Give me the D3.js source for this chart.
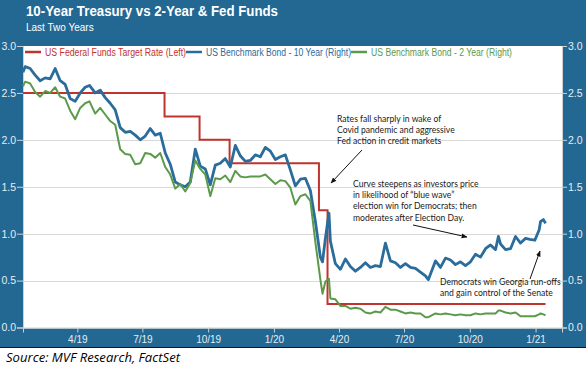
<!DOCTYPE html>
<html>
<head>
<meta charset="utf-8">
<script src="https://cdn.jsdelivr.net/npm/d3@7"></script>
<style>
body { margin: 0; background: #fff; }
svg { display: block; }
</style>
</head>
<body>
<script>
//============================================================
// Data (weekly-ish)
var dates = [
  "2019-01-15","2019-01-18","2019-01-25","2019-02-01","2019-02-08","2019-02-15","2019-02-22",
  "2019-03-01","2019-03-08","2019-03-15","2019-03-22","2019-03-29","2019-04-05","2019-04-12",
  "2019-04-18","2019-04-26","2019-05-03","2019-05-10","2019-05-17","2019-05-24","2019-05-31",
  "2019-06-07","2019-06-14","2019-06-21","2019-06-28","2019-07-05","2019-07-12","2019-07-19",
  "2019-07-26","2019-08-02","2019-08-09","2019-08-16","2019-08-23","2019-08-30","2019-09-06",
  "2019-09-13","2019-09-20","2019-09-27","2019-10-04","2019-10-11","2019-10-18","2019-10-25",
  "2019-11-01","2019-11-08","2019-11-15","2019-11-22","2019-11-29","2019-12-06","2019-12-13",
  "2019-12-20","2019-12-27",
  "2020-01-03","2020-01-10","2020-01-17","2020-01-24","2020-01-31","2020-02-07","2020-02-14",
  "2020-02-21","2020-02-28","2020-03-06","2020-03-09","2020-03-13","2020-03-18","2020-03-20",
  "2020-03-27","2020-04-03","2020-04-10","2020-04-17","2020-04-24","2020-05-01","2020-05-08",
  "2020-05-15","2020-05-22","2020-05-29","2020-06-05","2020-06-12","2020-06-19","2020-06-26",
  "2020-07-03","2020-07-10","2020-07-17","2020-07-24","2020-07-31","2020-08-04","2020-08-14",
  "2020-08-21","2020-08-28","2020-09-04","2020-09-11","2020-09-18","2020-09-25","2020-10-02",
  "2020-10-09","2020-10-16","2020-10-23","2020-10-30","2020-11-06","2020-11-10","2020-11-13",
  "2020-11-20","2020-11-27","2020-12-04","2020-12-11","2020-12-18","2020-12-24","2020-12-31",
  "2021-01-06","2021-01-08","2021-01-12","2021-01-15"
];

var tenYear = [
  2.72,2.78,2.76,2.69,2.63,2.66,2.65,
  2.76,2.63,2.59,2.44,2.41,2.50,2.56,
  2.58,2.50,2.53,2.45,2.39,2.32,2.13,
  2.08,2.09,2.05,2.00,2.04,2.12,2.05,
  2.07,1.86,1.74,1.55,1.52,1.50,1.55,
  1.90,1.72,1.69,1.52,1.73,1.75,1.80,
  1.71,1.94,1.83,1.77,1.78,1.84,1.82,
  1.92,1.88,
  1.79,1.82,1.84,1.68,1.51,1.58,1.59,
  1.46,1.13,0.75,0.70,0.95,1.22,0.92,
  0.68,0.62,0.73,0.65,0.60,0.64,0.69,
  0.64,0.66,0.65,0.90,0.71,0.69,0.64,
  0.68,0.64,0.63,0.59,0.55,0.51,0.71,
  0.64,0.74,0.72,0.67,0.70,0.66,0.70,
  0.78,0.75,0.84,0.88,0.83,0.97,0.89,
  0.83,0.84,0.97,0.90,0.95,0.94,0.93,
  1.04,1.13,1.15,1.11
];

var twoYear = [
  2.57,2.62,2.60,2.51,2.46,2.52,2.50,
  2.56,2.46,2.44,2.31,2.22,2.34,2.39,
  2.41,2.28,2.34,2.27,2.20,2.16,1.90,
  1.85,1.84,1.74,1.75,1.86,1.85,1.81,
  1.86,1.71,1.63,1.48,1.53,1.45,1.54,
  1.78,1.69,1.63,1.40,1.59,1.58,1.62,
  1.55,1.67,1.61,1.60,1.61,1.61,1.61,
  1.63,1.58,
  1.53,1.57,1.56,1.49,1.31,1.40,1.42,
  1.35,0.91,0.51,0.36,0.49,0.52,0.31,
  0.30,0.23,0.23,0.20,0.21,0.20,0.16,
  0.15,0.17,0.16,0.22,0.19,0.19,0.17,
  0.15,0.16,0.15,0.15,0.11,0.11,0.15,
  0.14,0.15,0.14,0.13,0.14,0.13,0.13,
  0.15,0.14,0.15,0.15,0.15,0.18,0.18,
  0.16,0.15,0.16,0.12,0.12,0.12,0.12,
  0.14,0.15,0.14,0.13
];

var fedDates = ["2019-01-15","2019-08-01","2019-09-19","2019-10-31","2020-03-04","2020-03-16","2021-01-15"];
var fedRate  = [2.50, 2.25, 2.00, 1.75, 1.25, 0.25, 0.25];

var yTicks = [0, 0.5, 1.0, 1.5, 2.0, 2.5, 3.0];
var xTickDates = ["2019-04-01","2019-07-01","2019-10-01","2020-01-01","2020-04-01","2020-07-01","2020-10-01","2021-01-01"];
var seriesNames = ["US Federal Funds Target Rate (Left)", "US Benchmark Bond - 10 Year (Right)", "US Benchmark Bond - 2 Year (Right)"];

//============================================================
// Set up SVG
var W = 586, H = 368;
var bg = "#236892";
var cRed = "#c0342f", cBlue = "#2a6c9b", cGreen = "#5b9a4a";
var parse = d3.timeParse("%Y-%m-%d");

var svg = d3.select("body").append("svg")
  .attr("width", W)
  .attr("height", H);

// blue panel
svg.append("rect").attr("x", 0).attr("y", 0).attr("width", W).attr("height", 347).attr("fill", bg);
svg.append("line").attr("x1", 0).attr("x2", W).attr("y1", 347.5).attr("y2", 347.5)
  .attr("stroke", "#111").attr("stroke-width", 1.2);

var plot = { left: 23, right: 562, top: 46, bottom: 327.5 };

svg.append("rect")
  .attr("x", plot.left).attr("y", plot.top)
  .attr("width", plot.right - plot.left).attr("height", plot.bottom - plot.top + 1)
  .attr("fill", "#fff");

var x = d3.scaleTime()
  .domain([parse("2019-01-15"), parse("2021-02-07")])
  .range([plot.left, plot.right]);

var y = d3.scaleLinear()
  .domain([0, 3])
  .range([plot.bottom, plot.top]);

// gridlines
svg.append("g").selectAll("line")
  .data(yTicks.filter(function (d) { return d > 0 && d < 3; }))
  .enter().append("line")
  .attr("x1", plot.left).attr("x2", plot.right)
  .attr("y1", function (d) { return Math.round(y(d)) + 0.5; })
  .attr("y2", function (d) { return Math.round(y(d)) + 0.5; })
  .attr("stroke", "#d9d9d9").attr("stroke-width", 1);

//============================================================
// Axes
function styleAxis(g) {
  g.selectAll(".domain").attr("stroke", "#d0d0d0");
  g.selectAll(".tick line").attr("stroke", "#d0d0d0");
  g.selectAll(".tick text")
    .attr("fill", "#e6eef4")
    .style("font-family", "'Liberation Sans', Arial, sans-serif")
    .style("font-size", "10.5px");
}

var fmtY = d3.format(".1f");
svg.append("g")
  .attr("transform", "translate(" + plot.left + ",0)")
  .call(d3.axisLeft(y).tickValues(yTicks).tickFormat(fmtY).tickSize(6).tickPadding(1))
  .call(styleAxis);

svg.append("g")
  .attr("transform", "translate(" + plot.right + ",0)")
  .call(d3.axisRight(y).tickValues(yTicks).tickFormat(fmtY).tickSize(5).tickPadding(1))
  .call(styleAxis);

var xAxis = svg.append("g")
  .attr("transform", "translate(0," + plot.bottom + ")")
  .call(d3.axisBottom(x).tickValues(xTickDates.map(parse)).tickFormat(d3.timeFormat("%-m/%y")).tickSize(5).tickPadding(3))
  .call(styleAxis);
xAxis.selectAll(".tick text").style("font-size", "10px");

//============================================================
// Series
var line = d3.line()
  .x(function (d) { return x(d[0]); })
  .y(function (d) { return y(d[1]); });

var fedData = fedDates.map(function (d, i) { return [parse(d), fedRate[i]]; });
var tenData = dates.map(function (d, i) { return [parse(d), tenYear[i]]; });
var twoData = dates.map(function (d, i) { return [parse(d), twoYear[i]]; });

svg.append("path").datum(fedData)
  .attr("d", line.curve(d3.curveStepAfter))
  .attr("fill", "none").attr("stroke", cRed).attr("stroke-width", 2);

line.curve(d3.curveLinear);

svg.append("path").datum(tenData)
  .attr("d", line)
  .attr("fill", "none").attr("stroke", cBlue).attr("stroke-width", 2.8)
  .attr("stroke-linejoin", "round");

svg.append("path").datum(twoData)
  .attr("d", line)
  .attr("fill", "none").attr("stroke", cGreen).attr("stroke-width", 2)
  .attr("stroke-linejoin", "round");

//============================================================
// Legend
var legend = [
  { name: seriesNames[0], color: cRed,   x0: 25,  len: 141 },
  { name: seriesNames[1], color: cBlue,  x0: 186, len: 145 },
  { name: seriesNames[2], color: cGreen, x0: 351, len: 141 }
];
var lg = svg.append("g").selectAll("g").data(legend).enter().append("g");
lg.append("line")
  .attr("x1", function (d) { return d.x0; })
  .attr("x2", function (d) { return d.x0 + 16; })
  .attr("y1", 52).attr("y2", 52)
  .attr("stroke", function (d) { return d.color; }).attr("stroke-width", 2.5);
lg.append("text")
  .attr("x", function (d) { return d.x0 + 20; })
  .attr("y", 55.5)
  .attr("fill", function (d) { return d.color; })
  .attr("textLength", function (d) { return d.len; })
  .attr("lengthAdjust", "spacingAndGlyphs")
  .style("font-family", "'Liberation Sans', Arial, sans-serif")
  .style("font-size", "10px")
  .text(function (d) { return d.name; });

//============================================================
// Titles
svg.append("text")
  .attr("x", 26).attr("y", 16)
  .attr("fill", "#fff")
  .attr("textLength", 252).attr("lengthAdjust", "spacingAndGlyphs")
  .style("font-family", "'Liberation Sans', Arial, sans-serif")
  .style("font-weight", "bold").style("font-size", "14px")
  .text("10-Year Treasury vs 2-Year & Fed Funds");

svg.append("text")
  .attr("x", 26).attr("y", 31)
  .attr("fill", "#fff")
  .style("font-family", "'Liberation Sans', Arial, sans-serif")
  .style("font-size", "10px")
  .text("Last Two Years");

svg.append("text")
  .attr("x", 6).attr("y", 362)
  .attr("fill", "#000")
  .attr("textLength", 174).attr("lengthAdjust", "spacingAndGlyphs")
  .style("font-family", "'Open Sans', sans-serif")
  .style("font-style", "italic").style("font-size", "12.5px")
  .text("Source: MVF Research, FactSet");

//============================================================
// Annotations
svg.append("defs").append("marker")
  .attr("id", "arr").attr("viewBox", "0 0 10 10")
  .attr("refX", 9).attr("refY", 5)
  .attr("markerWidth", 6).attr("markerHeight", 6)
  .attr("orient", "auto")
  .append("path").attr("d", "M0,1 L10,5 L0,9 z").attr("fill", "#111");

var notes = [
  { x: 337, y: 122, lines: ["Rates fall sharply in wake of", "Covid pandemic and aggressive", "Fed action in credit markets"] },
  { x: 353, y: 187, lines: ["Curve steepens as investors price", "in likelihood of \u201cblue wave\u201d", "election win for Democrats; then", "moderates after Election Day."] },
  { x: 440, y: 285, lines: ["Democrats win Georgia run-offs", "and gain control of the Senate"] }
];
notes.forEach(function (n) {
  var t = svg.append("text")
    .attr("fill", "#1a1a1a")
    .style("font-family", "Lato, sans-serif")
    .style("font-size", "8.6px");
  n.lines.forEach(function (l, i) {
    t.append("tspan").attr("x", n.x).attr("y", n.y + i * 11.2).text(l);
  });
});

var arrows = [
  [362, 150, 331, 183],
  [413, 225, 467, 237],
  [530, 279, 540, 251]
];
svg.append("g").selectAll("line").data(arrows).enter().append("line")
  .attr("x1", function (d) { return d[0]; })
  .attr("y1", function (d) { return d[1]; })
  .attr("x2", function (d) { return d[2]; })
  .attr("y2", function (d) { return d[3]; })
  .attr("stroke", "#111").attr("stroke-width", 1)
  .attr("marker-end", "url(#arr)");
</script>
</body>
</html>
